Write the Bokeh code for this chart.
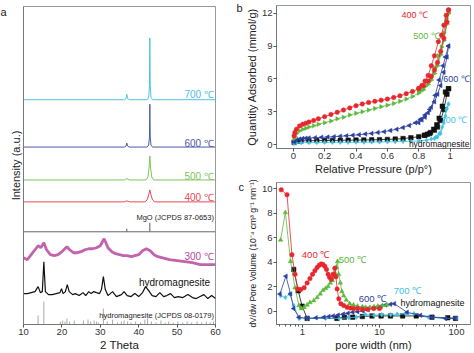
import math
from bokeh.plotting import figure
from bokeh.layouts import row, column
from bokeh.models import Range1d, FixedTicker, Label, Span
from bokeh.embed import file_html
from bokeh.resources import INLINE

FONT = "Liberation Sans"

# ---------------- Panel a: XRD ----------------
tt_700 = [10, 36.3, 36.7, 36.9, 37.1, 37.5, 42.2, 42.6, 42.8, 42.9, 43.0, 43.2, 43.6, 60]
int_700 = [0, 0, 1.2, 5.5, 1.2, 0, 0, 2.5, 14, 62, 14, 2.5, 0, 0]
tt_600 = [10, 36.3, 36.7, 36.9, 37.1, 37.5, 42.2, 42.6, 42.8, 42.9, 43.0, 43.2, 43.6, 60]
int_600 = [0, 0, 1.0, 4.0, 1.0, 0, 0, 2.0, 10, 43, 10, 2.0, 0, 0]
tt_500 = [10, 36.3, 36.9, 37.5, 41.9, 42.4, 42.7, 42.9, 43.1, 43.4, 43.9, 60]
int_500 = [0, 0, 1.5, 0, 0, 3, 12, 24, 12, 3, 0, 0]
tt_400 = [10, 36.2, 36.9, 37.6, 41.6, 42.2, 42.6, 42.9, 43.2, 43.6, 44.2, 60]
int_400 = [0, 0, 1, 0, 0, 2, 7, 12, 7, 2, 0, 0]

tt_300 = [10, 11, 12, 13, 13.8, 14.5, 15.3, 16, 17, 18, 19, 20, 21.3, 22, 23, 24, 25, 26,
          27, 28, 29, 30, 31, 32, 33, 34, 35, 36, 37, 38, 39, 40, 41, 42, 43, 44, 45, 46,
          48, 50, 52, 54, 56, 58, 60]
int_300 = [7, 5, 10, 15, 19, 17, 22, 15, 10, 9, 10, 13, 18, 15, 12, 12, 13, 15,
           16, 16, 17, 19, 26, 17, 13, 11, 10, 9, 9, 8, 9, 10, 14, 16, 14, 10, 8, 7,
           5, 4, 3, 2, 0, 0, 0]

tt_hm = [10, 11, 12, 13, 13.8, 14.4, 14.9, 15.3, 15.7, 16.5, 17.5, 18.5, 19.5, 19.9, 20.3,
         20.9, 21.4, 21.9, 22.8, 23.5, 24.5, 25.5, 26.2, 27, 27.6, 28.3, 29, 29.8, 30.3,
         30.8, 31.3, 32, 33.2, 34.2, 35.5, 36.2, 37, 38, 39, 40, 41, 41.8, 42.6, 43.5,
         44.5, 45.5, 46.5, 47.3, 48.3, 49.3, 50.3, 51.5, 52.8, 54, 55, 56, 57, 58, 59, 60]
py_hm = [294, 294, 293, 292, 287, 293, 292, 262, 292, 295, 295, 294, 293, 289, 294,
         292, 285, 292, 295, 294, 296, 293, 296, 292, 294, 292, 293, 294, 290,
         277, 290, 296, 292, 297, 295, 292, 296, 297, 294, 297, 293, 287, 291, 296,
         297, 293, 297, 296, 294, 298, 297, 298, 295, 298, 299, 297, 295, 299, 296, 299]
int_hm = [299 - v for v in py_hm]

mgo_ref_pos = [36.9, 42.9]
mgo_ref_int = [3, 9]
hm_ref_pos = [13.8, 15.3, 19.6, 20.2, 20.8, 21.3, 22.0, 23.2, 25.6, 26.8, 27.5, 28.4, 29.0,
              29.5, 30.8, 31.8, 33.2, 34.5, 35.5, 36.2, 37.1, 38.0, 39.2, 40.5, 41.6, 42.3,
              43.3, 44.5, 45.8, 46.9, 47.8, 49.0, 50.2, 51.5, 52.6, 53.8, 55.2, 56.4, 57.6,
              58.6, 59.5]
hm_ref_int = [9, 23, 3, 4, 3, 6, 3, 4, 4, 5, 3, 4, 3,
              2, 16, 3, 5, 2, 3, 4, 3, 2, 3, 2, 5, 6,
              3, 2, 4, 2, 3, 2, 3, 2, 3, 2, 3, 2, 3,
              2, 3]

C700, C600, C500, C400, C300 = "#4cc2e2", "#4d58a6", "#7cc55a", "#e84a55", "#b8479f"

pa = figure(width=232, height=353, x_range=Range1d(10, 60), y_range=Range1d(0, 319),
            output_backend="svg", toolbar_location=None,
            min_border_left=23, min_border_right=17, min_border_top=6, min_border_bottom=28)
pa.grid.visible = False
pa.outline_line_color = "#999999"

def offs(vals, o):
    return [v + o for v in vals]

pa.line(tt_700, offs(int_700, 225.5), line_color=C700, line_width=1)
pa.line(tt_600, offs(int_600, 178), line_color=C600, line_width=1)
pa.line(tt_500, offs(int_500, 145), line_color=C500, line_width=1)
pa.line(tt_400, offs(int_400, 123), line_color=C400, line_width=1)
pa.segment(x0=mgo_ref_pos, y0=[93] * len(mgo_ref_pos), x1=mgo_ref_pos,
           y1=offs(mgo_ref_int, 93), line_color="#555555", line_width=1)
pa.add_layout(Span(location=93, dimension="width", line_color="#666666", line_width=1))
pa.line(tt_300, offs(int_300, 60), line_color=C300, line_width=2.8, line_alpha=0.85)
pa.line(tt_hm, offs(int_hm, 26), line_color="#111111", line_width=1.2)
pa.segment(x0=hm_ref_pos, y0=[0] * len(hm_ref_pos), x1=hm_ref_pos, y1=hm_ref_int,
           line_color="#aaaaaa", line_width=1)

def lab(p, x, y, t, color, size, align="right", **kw):
    p.add_layout(Label(x=x, y=y, text=t, text_color=color, text_font=FONT,
                       text_font_size=size, text_align=align, text_baseline="middle", **kw))

lab(pa, 59.6, 231, "700 ℃", C700, "10px")
lab(pa, 59.6, 182, "600 ℃", C600, "10px")
lab(pa, 59.6, 148, "500 ℃", C500, "10px")
lab(pa, 59.6, 127, "400 ℃", C400, "10px")
lab(pa, 59.6, 107, "MgO (JCPDS 87-0653)", "#222222", "7.5px")
lab(pa, 59.6, 68, "300 ℃", C300, "10px")
lab(pa, 58.6, 42, "hydromagnesite", "#111111", "10px")
lab(pa, 59.6, 9, "hydromagnesite (JCPDS 08-0179)", "#222222", "7.5px")

pa.xaxis.ticker = FixedTicker(ticks=[10, 20, 30, 40, 50, 60])
pa.xaxis.axis_label = "2 Theta"
pa.yaxis.ticker = FixedTicker(ticks=[])
pa.yaxis.axis_label = "Intensity (a.u.)"

# ---------------- Panel b: isotherms ----------------
p_ads_400 = [0.005, 0.01, 0.02, 0.04, 0.06, 0.08, 0.1, 0.13, 0.16, 0.2, 0.24, 0.28, 0.32, 0.36,
             0.4, 0.44, 0.48, 0.52, 0.56, 0.6, 0.64, 0.68, 0.72, 0.76, 0.8, 0.83, 0.86, 0.88,
             0.9, 0.92, 0.94, 0.96, 0.98, 0.99]
q_ads_400 = [0.8, 1.1, 1.4, 1.7, 1.85, 1.95, 2.05, 2.2, 2.35, 2.55, 2.75, 2.95, 3.15, 3.35,
             3.55, 3.7, 3.85, 3.95, 4.05, 4.15, 4.3, 4.45, 4.65, 4.85, 5.1, 5.4, 5.8, 6.2,
             6.8, 7.5, 8.5, 9.7, 11.2, 12.3]
p_des_400 = [0.99, 0.975, 0.96, 0.945, 0.925, 0.9, 0.88, 0.86, 0.84, 0.82, 0.8]
q_des_400 = [12.3, 11.8, 10.9, 10.0, 9.4, 8.1, 7.2, 6.3, 5.8, 5.4, 5.15]

p_ads_500 = p_ads_400
q_ads_500 = [0.55, 0.75, 1.0, 1.25, 1.4, 1.5, 1.6, 1.72, 1.85, 2.0, 2.15, 2.35, 2.5, 2.7,
             2.85, 3.0, 3.15, 3.3, 3.45, 3.6, 3.75, 3.95, 4.15, 4.4, 4.7, 5.0, 5.5, 5.9,
             6.5, 7.2, 8.2, 9.5, 11.0, 12.0]
p_des_500 = [0.99, 0.975, 0.96, 0.945, 0.925, 0.9, 0.88, 0.86, 0.84, 0.82, 0.8]
q_des_500 = [12.0, 11.5, 10.2, 8.9, 8.1, 7.0, 6.3, 5.7, 5.3, 5.0, 4.75]

p_ads_600 = [0.005, 0.01, 0.02, 0.04, 0.06, 0.08, 0.1, 0.14, 0.18, 0.22, 0.26, 0.3, 0.34, 0.38,
             0.42, 0.46, 0.5, 0.54, 0.58, 0.62, 0.66, 0.7, 0.74, 0.78, 0.81, 0.84, 0.87, 0.9,
             0.92, 0.94, 0.96, 0.98, 0.99]
q_ads_600 = [0.25, 0.35, 0.45, 0.5, 0.55, 0.58, 0.6, 0.63, 0.66, 0.69, 0.72, 0.76, 0.8, 0.85,
             0.9, 0.96, 1.02, 1.1, 1.18, 1.28, 1.4, 1.55, 1.75, 2.0, 2.3, 2.7, 3.2, 3.9,
             4.6, 5.4, 6.6, 8.0, 9.0]
p_des_600 = [0.99, 0.97, 0.955, 0.93, 0.905, 0.88, 0.86, 0.84, 0.82, 0.8]
q_des_600 = [9.0, 8.0, 7.2, 5.9, 4.5, 3.4, 2.9, 2.5, 2.25, 2.0]

p_ads_700 = [0.005, 0.02, 0.05, 0.1, 0.15, 0.2, 0.25, 0.3, 0.35, 0.4, 0.45, 0.5, 0.55, 0.6,
             0.65, 0.7, 0.75, 0.8, 0.85, 0.88, 0.91, 0.93, 0.95, 0.97, 0.98, 0.99]
q_ads_700 = [0.1, 0.15, 0.17, 0.18, 0.19, 0.2, 0.2, 0.21, 0.21, 0.22, 0.22, 0.23, 0.24, 0.25,
             0.26, 0.28, 0.3, 0.33, 0.4, 0.5, 0.7, 1.0, 1.6, 2.6, 3.3, 3.7]
p_des_700 = [0.99, 0.975, 0.96, 0.94, 0.92, 0.9]
q_des_700 = [3.7, 3.2, 2.0, 1.0, 0.7, 0.55]

p_ads_hm = [0.005, 0.02, 0.05, 0.1, 0.15, 0.2, 0.25, 0.3, 0.35, 0.4, 0.45, 0.5, 0.55, 0.6,
            0.65, 0.7, 0.75, 0.8, 0.84, 0.87, 0.9, 0.92, 0.94, 0.96, 0.98, 0.99]
q_ads_hm = [0.2, 0.3, 0.33, 0.35, 0.36, 0.37, 0.38, 0.39, 0.4, 0.41, 0.42, 0.43, 0.45, 0.47,
            0.5, 0.55, 0.62, 0.72, 0.85, 1.0, 1.3, 1.6, 2.2, 3.2, 4.6, 5.1]
p_des_hm = [0.99, 0.97, 0.95, 0.93, 0.915, 0.895, 0.875, 0.855, 0.835]
q_des_hm = [5.1, 4.8, 3.5, 2.4, 1.8, 1.4, 1.1, 0.95, 0.85]

B400, B500, B600, B700, BHM = "#e8262d", "#5cb83c", "#2b3f9e", "#3cc3e3", "#111111"

pb = figure(width=242, height=177, x_range=Range1d(-0.107, 1.13), y_range=Range1d(-0.36, 12.7),
            output_backend="svg", toolbar_location=None,
            min_border_left=43, min_border_right=2, min_border_top=5, min_border_bottom=25)
pb.grid.visible = False
pb.outline_line_color = "#999999"

def iso(p, px, qy, color, marker, angle=0.0):
    p.line(px, qy, line_color=color, line_width=0.8)
    p.scatter(px, qy, marker=marker, size=4.5, angle=angle, fill_color=color,
              line_color=color, line_width=0.5)

iso(pb, p_ads_hm, q_ads_hm, BHM, "square")
iso(pb, p_des_hm, q_des_hm, BHM, "square")
iso(pb, p_ads_700, q_ads_700, B700, "diamond")
iso(pb, p_des_700, q_des_700, B700, "diamond")
iso(pb, p_ads_600, q_ads_600, B600, "triangle", math.pi / 2)
iso(pb, p_des_600, q_des_600, B600, "triangle", math.pi / 2)
iso(pb, p_ads_500, q_ads_500, B500, "triangle", -math.pi / 2)
iso(pb, p_des_500, q_des_500, B500, "triangle", -math.pi / 2)
iso(pb, p_ads_400, q_ads_400, B400, "circle")
iso(pb, p_des_400, q_des_400, B400, "circle")

lab(pb, 0.775, 11.8, "400 ℃", B400, "9px", "center")
lab(pb, 0.85, 9.95, "500 ℃", B500, "9px", "center")
lab(pb, 1.04, 6.0, "600 ℃", B600, "9px", "center")
lab(pb, 1.025, 2.2, "700 ℃", B700, "9px", "center")
lab(pb, 0.93, 0.05, "hydromagnesite", BHM, "8.5px", "center")

pb.xaxis.ticker = FixedTicker(ticks=[0.0, 0.2, 0.4, 0.6, 0.8, 1.0])
pb.yaxis.ticker = FixedTicker(ticks=[0, 3, 6, 9, 12])
pb.xaxis.axis_label = "Relative Pressure (p/p°)"
pb.yaxis.axis_label = "Quantity Adsorbed (mmol/g)"

# ---------------- Panel c: pore size distribution ----------------
w_400 = [0.53, 0.63, 0.73, 0.8, 0.87, 0.95, 1.05, 1.15, 1.25, 1.35, 1.45, 1.55, 1.65, 1.75,
         1.85, 1.95, 2.05, 2.15, 2.25, 2.36, 2.5, 2.63, 2.72, 2.82, 2.96, 3.15, 3.43, 3.8,
         4.2, 4.6, 5.2, 6.0, 7.0, 8.4, 10.0]
v_400 = [9.9, 9.5, 4.6, 3.0, 1.8, 1.75, 1.9, 2.3, 2.65, 3.0, 3.3, 3.55, 3.75, 3.85,
         3.8, 3.65, 3.4, 3.0, 2.75, 2.6, 3.0, 3.5, 2.8, 1.8, 1.0, 0.6, 0.45, 0.3,
         0.25, 0.2, 0.2, 0.15, 0.15, 0.2, 0.2]
w_500 = [0.52, 0.6, 0.7, 0.8, 0.9, 0.97, 1.05, 1.15, 1.25, 1.4, 1.55, 1.7, 1.85, 2.0, 2.15,
         2.3, 2.45, 2.55, 2.65, 2.75, 2.85, 2.95, 3.1, 3.25, 3.43, 3.7, 4.1, 4.6, 5.2, 6.0,
         6.6, 7.5, 8.5, 9.5, 11.0, 12.5]
v_500 = [5.8, 8.05, 4.05, 1.9, 0.45, 0.2, 0.3, 0.5, 0.7, 0.85, 1.1, 1.4, 1.7, 1.85, 2.0,
         2.3, 2.5, 2.8, 3.1, 3.6, 4.05, 3.0, 2.3, 1.6, 1.25, 0.9, 0.6, 0.5, 0.4, 0.35,
         0.3, 0.3, 0.35, 0.4, 0.45, 0.5]
w_600 = [0.51, 0.61, 0.7, 0.77, 0.9, 1.15, 1.5, 1.9, 2.2, 2.5, 2.9, 3.4, 3.9, 4.5, 5.2, 6.1,
         7.1, 8.4, 9.5, 10.5, 12.0, 13.9, 15.6, 22.8, 34.0, 48.0, 72.0, 97.0]
v_600 = [1.4, 2.85, 1.4, 0.2, -0.5, -0.6, -0.55, -0.5, -0.45, -0.4, -0.33, -0.25, -0.18, -0.1,
         -0.05, 0.0, 0.1, 0.25, 0.32, 0.4, 0.5, 0.55, 0.6, -0.1, -0.35, -0.5, -0.6, -0.6]
w_700 = [0.52, 0.6, 0.68, 0.77, 0.9, 1.15, 2.0, 3.0, 4.0, 5.0, 6.6, 8.5, 10.7, 14.0, 17.0,
         22.0, 28.0, 43.0, 72.0, 100.0]
v_700 = [1.25, 1.1, 1.4, 0.45, -0.6, -0.6, -0.6, -0.6, -0.55, -0.5, -0.3, -0.35, -0.3, -0.3,
         -0.25, -0.25, -0.2, -0.5, -0.6, -0.6]
w_hm = [0.77, 0.88, 0.99, 1.15, 2.8, 3.5, 4.5, 6.0, 8.0, 10.5, 13.9, 20.0, 30.0, 48.0, 77.0, 97.0]
v_hm = [3.4, 1.65, 0.4, -0.6, -0.6, -0.5, -0.5, -0.45, -0.4, -0.4, -0.4, -0.4, -0.4, -0.5,
        -0.55, -0.6]

pc = figure(width=242, height=176, x_axis_type="log", x_range=Range1d(0.46, 152),
            y_range=Range1d(-1.1, 10.5), output_backend="svg", toolbar_location=None,
            min_border_left=44, min_border_right=4, min_border_top=5, min_border_bottom=25)
pc.grid.visible = False
pc.outline_line_color = "#999999"

iso(pc, w_hm, v_hm, BHM, "square")
iso(pc, w_700, v_700, B700, "diamond")
iso(pc, w_600, v_600, B600, "triangle", math.pi / 2)
iso(pc, w_500, v_500, B500, "triangle")
iso(pc, w_400, v_400, B400, "circle")

lab(pc, 1.48, 4.64, "400 ℃", B400, "9.5px", "center")
lab(pc, 4.46, 4.24, "500 ℃", B500, "9.5px", "center")
lab(pc, 8.1, 1.04, "600 ℃", B600, "9.5px", "center")
lab(pc, 23.1, 1.68, "700 ℃", B700, "9.5px", "center")
lab(pc, 48.8, 0.64, "hydromagnesite", BHM, "9px", "center")

pc.xaxis.ticker = FixedTicker(ticks=[1, 10, 100],
                              minor_ticks=[0.5, 0.6, 0.7, 0.8, 0.9, 2, 3, 4, 5, 6, 7, 8, 9,
                                           20, 30, 40, 50, 60, 70, 80, 90])
pc.xaxis.major_label_overrides = {1: "1", 10: "10", 100: "100"}
pc.yaxis.ticker = FixedTicker(ticks=[0, 2, 4, 6, 8, 10])
pc.xaxis.axis_label = "pore width (nm)"
pc.yaxis.axis_label = "dV/dw Pore Volume (10⁻⁴ cm³ g⁻¹ nm⁻¹)"

# ---------------- common axis styling ----------------
for p in (pa, pb, pc):
    for ax in (p.xaxis[0], p.yaxis[0]):
        ax.axis_line_color = "#777777"
        ax.major_tick_line_color = "#555555"
        ax.minor_tick_line_color = None
        ax.major_tick_in = 0
        ax.major_tick_out = 3
        ax.major_label_standoff = 1
        ax.major_label_text_font = FONT
        ax.major_label_text_font_size = "9.5px"
        ax.major_label_text_color = "#333333"
        ax.axis_label_text_font = FONT
        ax.axis_label_text_font_style = "normal"
        ax.axis_label_text_font_size = "11px"
        ax.axis_label_text_color = "#222222"
        ax.axis_label_standoff = 1
pc.xaxis.minor_tick_line_color = "#555555"
pc.xaxis.minor_tick_out = 2
pc.xaxis.minor_tick_in = 0
pc.yaxis.axis_label_text_font_size = "8.5px"
pa.yaxis.major_tick_out = 0
pa.yaxis.axis_label_standoff = 2
pa.xaxis.axis_label_text_font_size = "11.5px"

# panel letters, placed in the left side panels so they are not clipped to the frame
def letter(p, t, x, y):
    p.add_layout(Label(x=x, y=y, x_units="screen", y_units="screen", text=t,
                       text_font=FONT, text_font_size="11px", text_align="left",
                       text_baseline="middle", text_color="#222222"), "left")

letter(pa, "a", 0, 313)
letter(pb, "b", 0, 141)
letter(pc, "c", 0, 138)

layout = row(pa, column(pb, pc, spacing=0), spacing=0)
open("out.html", "w").write(file_html(layout, INLINE))
